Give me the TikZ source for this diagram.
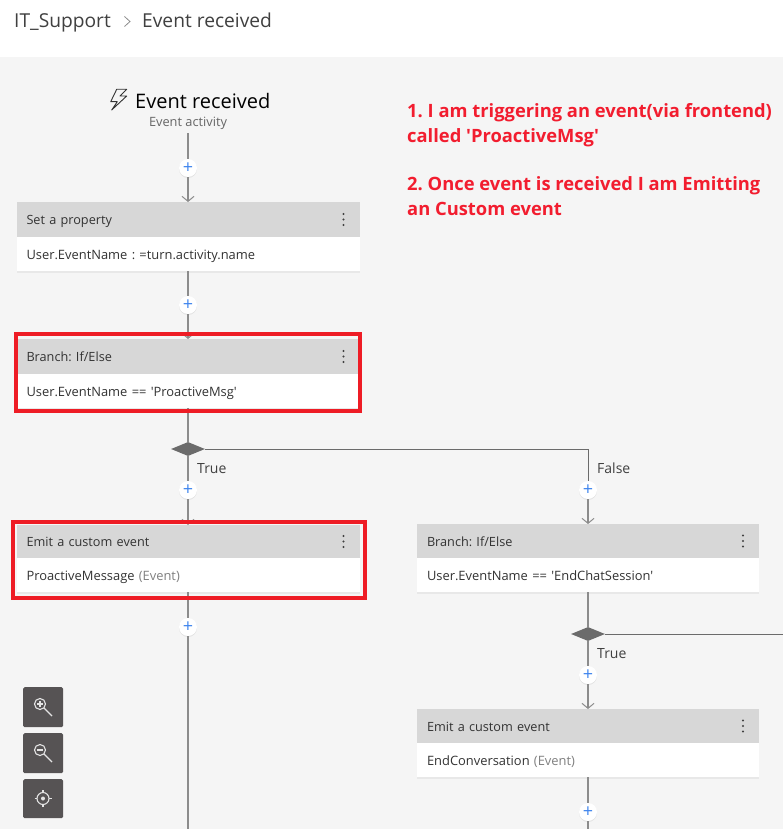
\documentclass[tikz,border=0pt]{standalone}
\usepackage{fontspec}
\setmainfont{Open Sans}[Ligatures=TeXOff]
\newfontfamily\redfont{Open Sans}[BoldFont={Open Sans Bold}]
\usetikzlibrary{positioning}
\usetikzlibrary{arrows.meta}
\usetikzlibrary{shapes.geometric}
\usetikzlibrary{shadows}
\definecolor{pagegray}{HTML}{F5F5F5}
\definecolor{headgray}{HTML}{D7D7D7}
\definecolor{flowgray}{HTML}{8C8C8C}
\definecolor{thingray}{HTML}{6B6B6B}
\definecolor{markred}{HTML}{EE1C25}
\definecolor{notered}{HTML}{F21D2F}
\definecolor{plusblue}{HTML}{3F85EE}
\definecolor{btngray}{HTML}{565354}
\definecolor{icongray}{HTML}{E4E4E4}
\tikzset{
  cardshadow/.style={general shadow={shadow xshift=0pt,shadow yshift=-2pt,fill=black,opacity=.05}},
  cardhead/.style={cardshadow,fill=headgray,minimum height=35pt,text width=323pt,inner xsep=10pt,inner ysep=0pt,outer sep=0pt,
    font=\fontsize{12.7}{14}\selectfont,text=black!80,anchor=north west,text height=11pt,text depth=1pt},
  cardbody/.style={cardshadow,fill=white,minimum height=34pt,text width=323pt,inner xsep=10pt,inner ysep=0pt,outer sep=0pt,
    font=\fontsize{12.9}{14}\selectfont,text=black!80,text height=12pt,text depth=1pt},
  plusbtn/.style={circle,fill=white,minimum size=18pt,inner sep=0pt,text=plusblue,font=\fontsize{18}{18}\selectfont,
    general shadow={shadow xshift=0pt,shadow yshift=-1pt,fill=black,opacity=.08}},
  flowline/.style={draw=flowgray,line width=1.6pt},
  flowarrow/.style={flowline,-{Straight Barb[length=5pt,width=12pt,line width=1pt]}},
  thinline/.style={draw=thingray,line width=1pt},
  forkmark/.style={diamond,fill=thingray,minimum width=34pt,minimum height=14pt,inner sep=0pt},
  caselabel/.style={anchor=base west,inner sep=0pt,font=\fontsize{14}{16}\selectfont,text=black!75},
  redmark/.style={draw=markred,line width=4pt},
  zoombtn/.style={fill=btngray,rounded corners=1.5pt,minimum width=40pt,minimum height=40pt,inner sep=0pt,anchor=north west},
  iconline/.style={draw=icongray,line width=1.1pt}
}
\begin{document}
\frenchspacing
\begin{tikzpicture}[x=1pt,y=-1pt]
 \useasboundingbox (0,0) rectangle (783,829);
 \fill[pagegray] (0,0) rectangle (783,829);
 \fill[white] (0,0) rectangle (783,57);

 % breadcrumb
 \node[anchor=base west,inner sep=0pt,font=\fontsize{19.2}{22}\selectfont,text=black!75] (crumbA) at (14,28) {IT\_Support};
 \node[anchor=base west,inner sep=0pt,font=\fontsize{19.2}{22}\selectfont,text=black!75] (crumbB) at (142,28) {Event received};
 \draw[flowgray,line width=.8pt] (124.5,16.5) -- (130,21.5) -- (124.5,26.5);

 % title
 \node[anchor=base west,inner sep=0pt,font=\fontsize{20}{24}\selectfont,text=black] (evt) at (135,108.5) {Event received};
 \node[inner sep=0pt,minimum height=19pt,font=\fontsize{12.8}{14}\selectfont,text=black!60] (evtsub) at (188,123.5) {Event activity};
 \draw[black!80,line width=.9pt,line join=round] (116.7,89.3) -- (126.7,89.3) -- (120,96) -- (126.7,96) -- (111.7,110) -- (117.3,101.7) -- (110.7,101.7) -- cycle;

 % notes
 \node[anchor=north west,inner sep=0pt,align=left,text=notered,font=\redfont\bfseries\fontsize{18.35}{24.5}\selectfont] (note) at (407,103.5)
   {1. I am triggering an event(via frontend)\\called 'ProactiveMsg'\\[24pt]2. Once event is received I am Emitting\\an Custom event};

 % cards
 \node[cardhead] (propH) at (16.5,202) {Set a property};
 \node[cardbody,below=0pt of propH] (propB) {User.EventName : =turn.activity.name};
 \node[cardhead] (ifaH) at (16.5,339) {Branch: If/Else};
 \node[cardbody,below=0pt of ifaH] (ifaB) {User.EventName == 'ProactiveMsg'};
 \node[cardhead,minimum height=33pt] (emitaH) at (16.5,525) {Emit a custom event};
 \node[cardbody,below=0pt of emitaH] (emitaB) {ProactiveMessage {\color{black!50}(Event)}};
 \node[cardhead,minimum height=34pt,text width=322pt] (ifbH) at (417,524) {Branch: If/Else};
 \node[cardbody,text width=322pt,below=0pt of ifbH] (ifbB) {User.EventName == 'EndChatSession'};
 \node[cardhead,minimum height=34pt,text width=322pt] (emitbH) at (417,709) {Emit a custom event};
 \node[cardbody,text width=322pt,below=0pt of emitbH] (emitbB) {EndConversation {\color{black!50}(Event)}};
 \foreach \card in {propH,ifaH,emitaH,ifbH,emitbH}
   \foreach \dy in {-5.5,0,5.5}
     \fill[black!75] ([xshift=-16pt,yshift=\dy pt]\card.east) circle (1.1pt);

 % fork marks and plus buttons
 \node[forkmark] (forkA) at (188,449) {};
 \node[forkmark] (forkB) at (588,634) {};
 \coordinate (forkBout) at (783,634);
 \coordinate (leftend) at (188,829);
 \coordinate (rightend) at (588,829);
 \node[plusbtn] (plusA) at (188,168) {+};
 \node[plusbtn] (plusB) at (188,305) {+};
 \node[plusbtn] (plusC) at (188,490) {+};
 \node[plusbtn] (plusD) at (188,627) {+};
 \node[plusbtn] (plusE) at (588,490) {+};
 \node[plusbtn] (plusF) at (588,675) {+};
 \node[plusbtn] (plusG) at (588,812) {+};

 % connectors
 \draw[flowline] (evtsub.south) -- (plusA);
 \draw[flowarrow] (plusA) -- (propH.north);
 \draw[flowline] (propB.south) -- (plusB);
 \draw[flowarrow] (plusB) -- (ifaH.north);
 \draw[flowline] (ifaB.south) -- (forkA);
 \draw[flowline] (forkA) -- (plusC);
 \draw[flowarrow] (plusC) -- (emitaH.north);
 \draw[flowline] (emitaB.south) -- (plusD);
 \draw[flowline] (plusD) -- (leftend);
 \draw[thinline] (forkA.east) -| (plusE.north);
 \draw[flowarrow] (plusE) -- (ifbH.north);
 \draw[flowline] (ifbB.south) -- (forkB);
 \draw[thinline] (forkB.east) -- (forkBout);
 \draw[flowline] (forkB) -- (plusF);
 \draw[flowarrow] (plusF) -- (emitbH.north);
 \draw[flowline] (emitbB.south) -- (plusG);
 \draw[flowline] (plusG) -- (rightend);

 \node[caselabel] (trueA) at (197,473.5) {True};
 \node[caselabel] (falseA) at (597,473.5) {False};
 \node[caselabel] (trueB) at (597,658.5) {True};

 % red frames
 \draw[redmark] (16,334) rectangle (360,411);
 \draw[redmark] (13,522) rectangle (365,598);

 % zoom buttons
 \node[zoombtn] (zoomin) at (23,687) {};
 \node[zoombtn] (zoomout) at (23,733) {};
 \node[zoombtn,minimum height=39pt] (recenter) at (23,779) {};
 \draw[iconline] (40,704) circle (5.5pt);
 \draw[iconline] (44,708) -- (52,716);
 \draw[iconline] (37,704) -- (43,704) (40,701) -- (40,707);
 \draw[iconline] (40,750) circle (5.5pt);
 \draw[iconline] (44,754) -- (52,762);
 \draw[iconline] (37,750) -- (43,750);
 \draw[iconline] (43,798.5) circle (6pt);
 \fill[icongray] (43,798.5) circle (2pt);
 \draw[iconline] (34.5,798.5) -- (37,798.5) (49,798.5) -- (51.5,798.5) (43,790) -- (43,792.5) (43,804.5) -- (43,807);
\end{tikzpicture}
\end{document}
